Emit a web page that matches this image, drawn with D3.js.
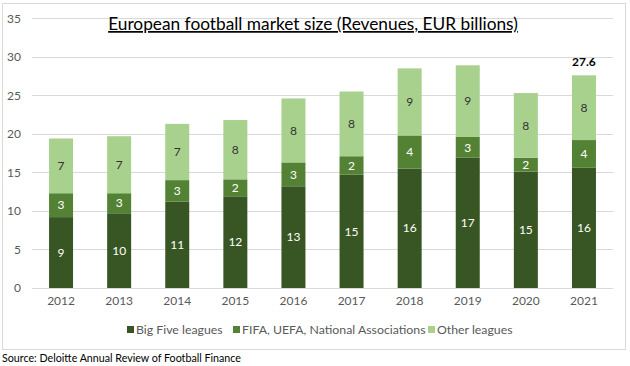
<!DOCTYPE html>
<html><head><meta charset="utf-8">
<script src="https://cdn.jsdelivr.net/npm/d3@7/dist/d3.min.js"></script>
<style>body{margin:0;background:#fff}svg{display:block;font-family:Lato,"Open Sans",sans-serif}</style>
</head><body><svg id="c" width="630" height="366"></svg>
<script>
const years = ["2012","2013","2014","2015","2016","2017","2018","2019","2020","2021"];
const bigFive = [9.2, 9.7, 11.2, 11.9, 13.2, 14.7, 15.5, 16.9, 15.1, 15.6];
const fifaUefa = [3.1, 2.6, 2.8, 2.2, 3.1, 2.4, 4.3, 2.7, 1.8, 3.6];
const otherLeagues = [7.1, 7.4, 7.3, 7.7, 8.3, 8.4, 8.7, 9.3, 8.4, 8.4];
const seriesNames = ["Big Five leagues", "FIFA, UEFA, National Associations", "Other leagues"];
const yTicks = [0, 5, 10, 15, 20, 25, 30, 35];
const totalLabel = "27.6";
const title = "European football market size (Revenues, EUR billions)";
const source = "Source: Deloitte Annual Review of Football Finance";

const colors = ["#375623", "#548235", "#A9D18E"];
const labelColors = ["#ffffff", "#ffffff", "#333333"];

const svg = d3.select("#c");
svg.append("rect").attr("x", 2.5).attr("y", 3.5).attr("width", 623).attr("height", 346)
  .attr("fill", "#fff").attr("stroke", "#d9d9d9");

const x = d3.scaleBand().domain(years).range([32, 613]).paddingInner(0.587).paddingOuter(0.2935);
const y = d3.scaleLinear().domain([0, 35]).range([288, 18.3]);

// grid
svg.append("g").selectAll("line").data(yTicks).join("line")
  .attr("x1", 32).attr("x2", 613)
  .attr("y1", d => Math.round(y(d)) + 0.5).attr("y2", d => Math.round(y(d)) + 0.5)
  .attr("stroke", "#d9d9d9").attr("stroke-width", 1);

// y axis labels
const yAxis = d3.axisLeft(y).tickValues(yTicks).tickSize(0).tickPadding(0);
const ya = svg.append("g").attr("transform", "translate(21,0)").call(yAxis);
ya.select(".domain").remove();
ya.selectAll("text").attr("font-size", 12).attr("fill", "#595959").attr("font-family", "Lato, sans-serif");

// x axis labels
const xAxis = d3.axisBottom(x).tickSize(0).tickPadding(0);
const xa = svg.append("g").attr("transform", "translate(0,296)").call(xAxis);
xa.select(".domain").remove();
xa.selectAll("text").attr("font-size", 12).attr("fill", "#595959").attr("font-family", "Lato, sans-serif");

// stack
const rows = years.map((yr, i) => ({year: yr, a: bigFive[i], b: fifaUefa[i], c: otherLeagues[i]}));
const stack = d3.stack().keys(["a", "b", "c"])(rows);

const layers = svg.append("g").selectAll("g").data(stack).join("g")
  .attr("fill", (d, i) => colors[i]);
layers.selectAll("rect").data(d => d).join("rect")
  .attr("x", d => x(d.data.year))
  .attr("width", x.bandwidth())
  .attr("y", d => y(d[1]))
  .attr("height", d => y(d[0]) - y(d[1]));

const lab = svg.append("g").selectAll("g").data(stack).join("g")
  .attr("fill", (d, i) => labelColors[i]);
lab.selectAll("text").data(d => d).join("text")
  .attr("x", d => x(d.data.year) + x.bandwidth() / 2)
  .attr("y", d => (y(d[0]) + y(d[1])) / 2)
  .attr("dy", "0.35em")
  .attr("text-anchor", "middle")
  .attr("font-size", 12)
  .text(d => Math.round(d[1] - d[0]));

// total label
const lastRow = rows[rows.length - 1];
svg.append("text")
  .attr("x", x(lastRow.year) + x.bandwidth() / 2)
  .attr("y", y(lastRow.a + lastRow.b + lastRow.c) - 9)
  .attr("text-anchor", "middle").attr("font-size", 12).attr("font-weight", "bold")
  .attr("fill", "#000").text(totalLabel);

// title
svg.append("text").attr("x", 313).attr("y", 30).attr("text-anchor", "middle")
  .attr("font-size", 17.3).attr("fill", "#000").attr("text-decoration", "underline")
  .text(title);

// legend
const legX = [127, 233, 428];
const leg = svg.append("g").selectAll("g").data(seriesNames).join("g")
  .attr("transform", (d, i) => `translate(${legX[i]},326)`);
leg.append("rect").attr("width", 7).attr("height", 7).attr("fill", (d, i) => colors[i]);
leg.append("text").attr("x", 9).attr("y", 7.5).attr("font-size", 12.3).attr("fill", "#595959").text(d => d);

// source
svg.append("text").attr("x", 2).attr("y", 362).attr("font-size", 10.7).attr("fill", "#000").text(source);
</script></body></html>
